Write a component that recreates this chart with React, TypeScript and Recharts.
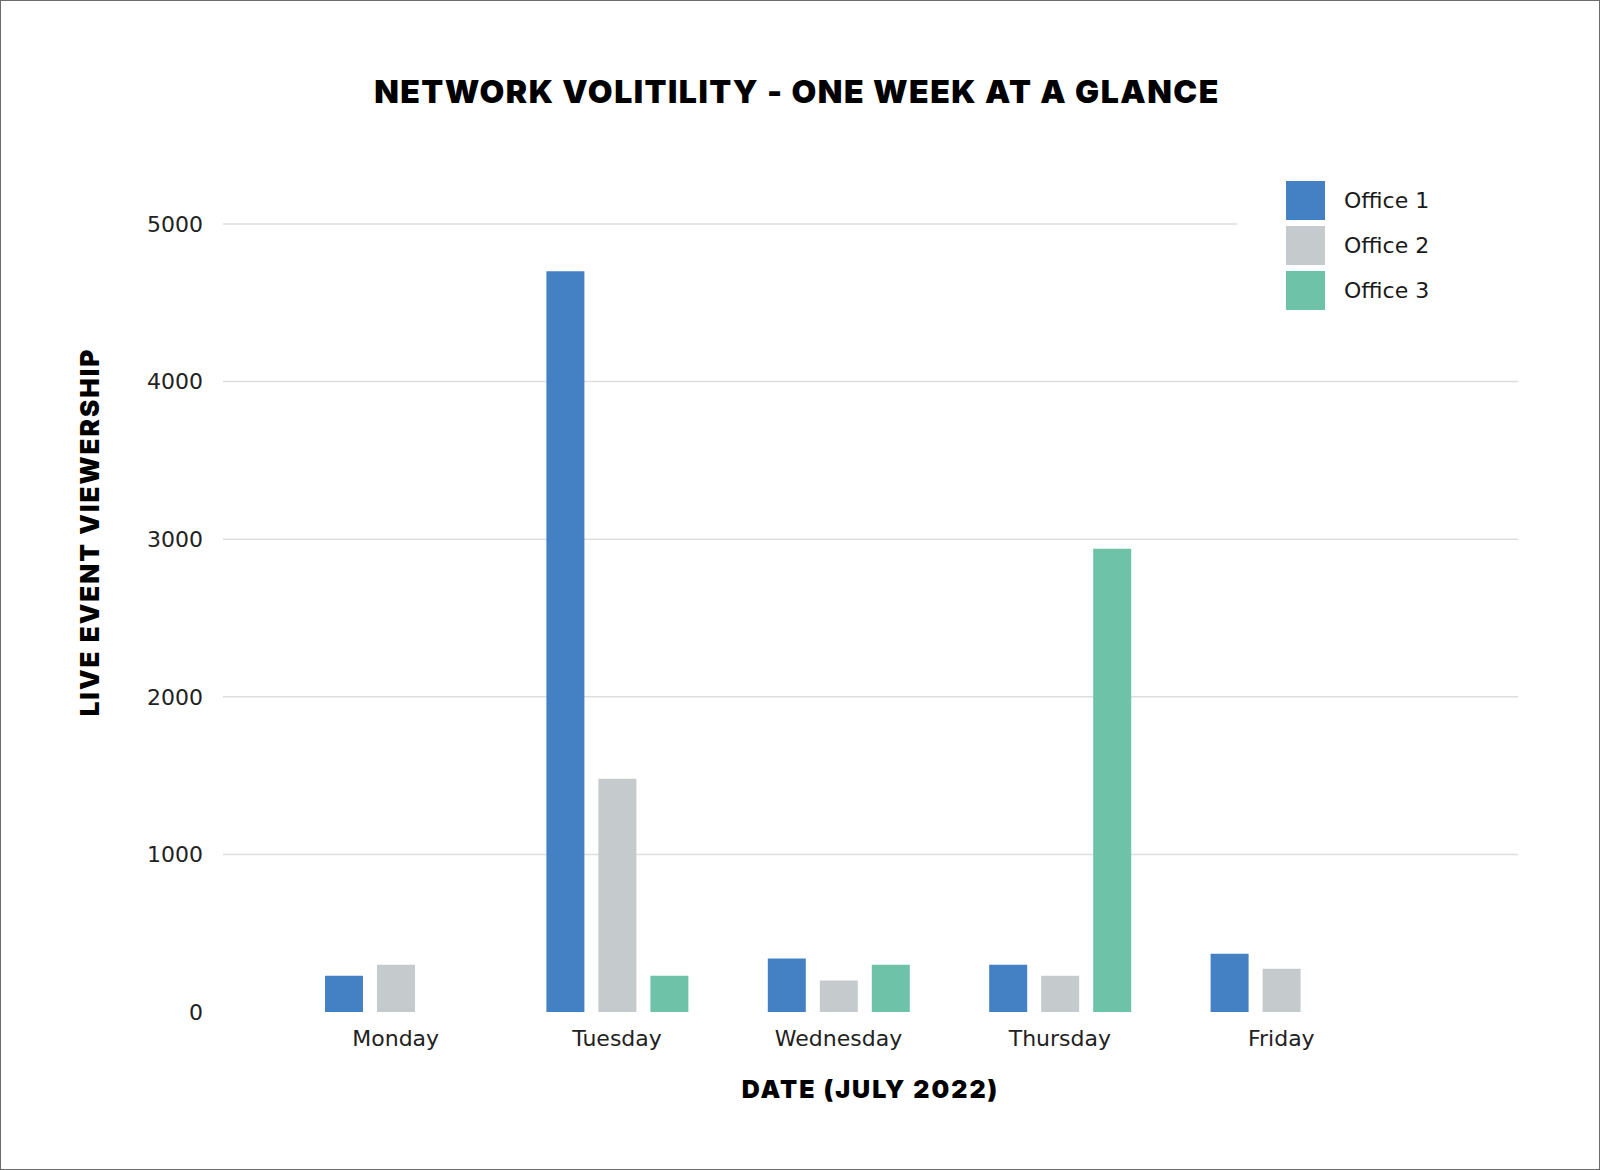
// NetworkVolatility: live event viewership for three offices over one week in July 2022.
// Grouped bars, one per office, and a vertical legend at the top right.

import { BarChart, Bar, XAxis, YAxis, CartesianGrid, Legend, Label } from 'recharts'

const DAYS = ['Monday', 'Tuesday', 'Wednesday', 'Thursday', 'Friday']
const OFFICE_1 = [230, 4700, 340, 300, 370]
const OFFICE_2 = [300, 1480, 200, 230, 275]
const OFFICE_3: (number | null)[] = [null, 230, 300, 2940, null]
const Y_TICKS = [0, 1000, 2000, 3000, 4000, 5000]

const SERIES = [
  { key: 'office1', name: 'Office 1', color: '#4381c4' },
  { key: 'office2', name: 'Office 2', color: '#c5cacc' },
  { key: 'office3', name: 'Office 3', color: '#6ec2a7' },
]

const data = DAYS.map((day, i) => ({
  day,
  office1: OFFICE_1[i],
  office2: OFFICE_2[i],
  office3: OFFICE_3[i],
}))

const FONT = '"DejaVu Sans", sans-serif'
const HEAVY = 'Inter, "DejaVu Sans", sans-serif'

// plot edges, used to drop the 0 line and shorten the top line before the legend
const PLOT_TOP = 224
const PLOT_BOTTOM = 1012
const TOP_LINE_END = 1237

function gridLine(p: any) {
  if (Math.abs(p.y1 - PLOT_BOTTOM) < 1) return <g key={`h-${p.index}`} />
  const x2 = Math.abs(p.y1 - PLOT_TOP) < 1 ? TOP_LINE_END : p.x2
  return (
    <line
      key={`h-${p.index}`}
      x1={p.x1}
      y1={p.y1}
      x2={x2}
      y2={p.y2}
      stroke="#dedede"
      strokeWidth={1.5}
    />
  )
}

function LegendBox({ payload }: any) {
  return (
    <div style={{ fontFamily: FONT }}>
      {(payload || []).map((entry: any) => (
        <div
          key={entry.value}
          style={{ display: 'flex', alignItems: 'center', height: 45 }}
        >
          <div style={{ width: 39, height: 39, background: entry.color }} />
          <span style={{ marginLeft: 19, fontSize: 22, color: '#1a1a1a' }}>
            {entry.value}
          </span>
        </div>
      ))}
    </div>
  )
}

export default function App() {
  return (
    <div
      style={{
        position: 'absolute',
        left: 0,
        top: 0,
        width: 1600,
        height: 1170,
        boxSizing: 'border-box',
        border: '1px solid #6b6b6b',
        background: '#fff',
      }}
    >
      <div
        style={{
          position: 'absolute',
          left: 0,
          top: 71,
          width: 1592,
          textAlign: 'center',
          fontFamily: HEAVY,
          fontWeight: 900,
          fontSize: 32,
          letterSpacing: 1.5,
          color: '#000',
        }}
      >
        NETWORK VOLITILITY - ONE WEEK AT A GLANCE
      </div>
      <div
        style={{
          position: 'absolute',
          left: 88,
          top: 531,
          transform: 'translate(-50%, -50%) rotate(-90deg)',
          whiteSpace: 'nowrap',
          fontFamily: HEAVY,
          fontWeight: 900,
          fontSize: 26,
          letterSpacing: 2,
          color: '#000',
        }}
      >
        LIVE EVENT VIEWERSHIP
      </div>
      <BarChart
        width={1600}
        height={1170}
        data={data}
        margin={{ top: 224, right: 82, bottom: 98, left: 0 }}
        barSize={38}
        barGap={14}
        style={{ position: 'absolute', left: -1, top: -1 }}
      >
        <CartesianGrid vertical={false} horizontal={gridLine} />
        <XAxis
          dataKey="day"
          height={60}
          axisLine={false}
          tickLine={false}
          tickSize={0}
          tickMargin={18}
          padding={{ left: 62, right: 126 }}
          tick={{ fontSize: 22, fill: '#222', fontFamily: FONT }}
        >
          <Label
            value="DATE (JULY 2022)"
            position="bottom"
            offset={8}
            style={{
              fontSize: 25,
              fontWeight: 900,
              letterSpacing: 2,
              fontFamily: HEAVY,
              fill: '#000',
            }}
          />
        </XAxis>
        <YAxis
          width={223}
          domain={[0, 5000]}
          ticks={Y_TICKS}
          axisLine={false}
          tickLine={false}
          tickSize={0}
          tickMargin={20}
          tick={{ fontSize: 22, fill: '#222', fontFamily: FONT }}
        />
        <Legend
          layout="vertical"
          align="center"
          verticalAlign="middle"
          wrapperStyle={{ top: 178, left: 1286, width: 'auto' }}
          content={<LegendBox />}
        />
        {SERIES.map((s) => (
          <Bar
            key={s.key}
            dataKey={s.key}
            name={s.name}
            fill={s.color}
            isAnimationActive={false}
          />
        ))}
      </BarChart>
    </div>
  )
}
